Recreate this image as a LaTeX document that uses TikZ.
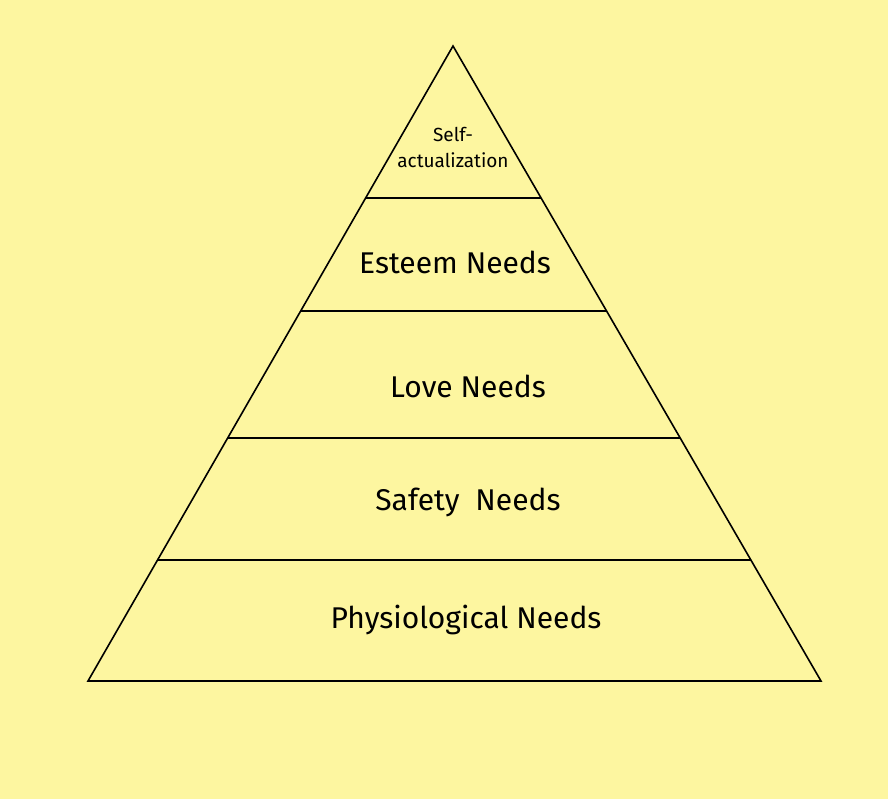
\documentclass[tikz,border=0pt]{standalone}
\usepackage{fontspec}
\setmainfont{Fira Sans}
\definecolor{bg}{RGB}{253,246,160}
\tikzset{lvl/.style={font=\fontsize{30}{34}\selectfont, text=black},
 edge/.style={draw=black, line width=1.6pt}}
\begin{document}
\begin{tikzpicture}[x=1pt,y=-1pt]
\fill[bg] (0,0) rectangle (888,799);
\useasboundingbox (0,0) rectangle (888,799);
\coordinate (A) at (453,46);
\coordinate (L) at (88,681);
\coordinate (R) at (821,681);
\draw[edge, line join=miter] (A) -- (L) -- (R) -- cycle;
\foreach \y/\n in {198/a,311/b,438/c,560/d}{
  \pgfmathsetmacro{\p}{(\y-46)/635}
  \path (A) -- (L) coordinate[pos=\p] (l\n);
  \path (A) -- (R) coordinate[pos=\p] (r\n);
  \draw[edge] (l\n) -- (r\n);
}
\node[align=center, font=\fontsize{19}{26}\selectfont] (t1) at (453,147) {Self-\\actualization};
\node[lvl] (t2) at (455,262) {Esteem Needs};
\node[lvl] (t3) at (468,386) {Love Needs};
\node[lvl] (t4) at (468,502) {Safety\ \ Needs};
\node[lvl] (t5) at (466,620) {Physiological Needs};
\end{tikzpicture}
\end{document}
